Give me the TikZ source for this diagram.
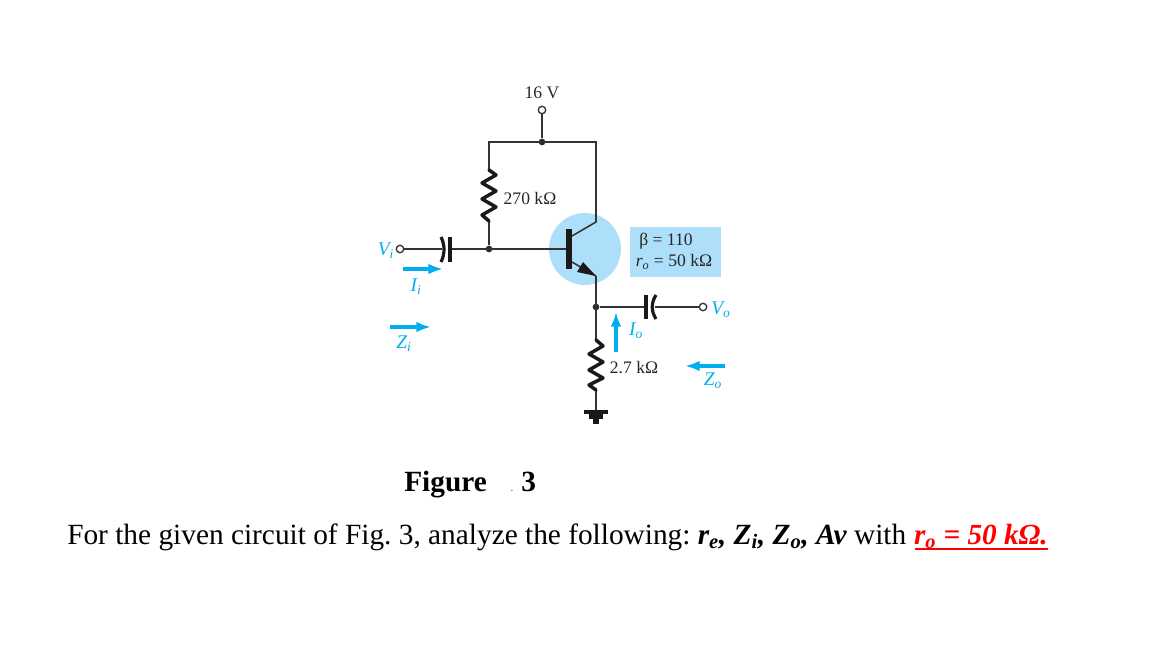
\documentclass[tikz,border=0pt]{standalone}
\usepackage{fontspec}
\setmainfont{Liberation Serif}
\usetikzlibrary{arrows.meta}
\definecolor{circblue}{HTML}{ADDFFA}
\definecolor{arrowblue}{HTML}{00AEEF}
\definecolor{wirecol}{HTML}{333333}
\tikzset{
  wire/.style={draw=wirecol,line width=1.15pt},
  term/.style={circle,draw=wirecol,fill=white,line width=1pt,minimum size=5.6pt,inner sep=0pt},
  dotj/.style={circle,fill=black!85,minimum size=5pt,inner sep=0pt},
  flow/.style={draw=arrowblue,line width=2.5pt,-{Latex[length=11pt,width=8pt]}},
  val/.style={inner sep=0pt,font=\fontsize{13.2}{15}\selectfont,text=black!85},
  cur/.style={inner sep=0pt,font=\fontsize{14.5}{16}\itshape\selectfont,text=arrowblue},
  plate/.style={draw=black!90,line width=2.4pt},
  res/.style={draw=black!90,line width=2.6pt,line join=round,line cap=round},
}
\begin{document}
\begin{tikzpicture}[x=0.75pt,y=-0.75pt]
  \useasboundingbox (0,0) rectangle (1152,648);

  % Transistor disc and value box
  \fill [circblue] (585,249) circle (36);
  \node (params) [fill=circblue,minimum width=68pt,minimum height=37.5pt,inner sep=0pt] at (675.5,252) {};
  \node (beta) [val] at (666,241) {β = 110};
  \node (rout) [val] at (674,262) {\textit{r\textsubscript{o}} = 50 kΩ};

  % Terminals and junctions
  \node (vcc) [term] at (542,110) {};
  \node (jtop) [dotj] at (542,142) {};
  \coordinate (cornerl) at (489,142);
  \coordinate (cornerr) at (596,142);
  \node (jbase) [dotj] at (489,249) {};
  \node (vin) [term] at (400,249) {};
  \node (jout) [dotj] at (596,307) {};
  \node (vout) [term] at (703,307) {};
  \coordinate (rbtop) at (489,170);
  \coordinate (rbbot) at (489,221);
  \coordinate (retop) at (596,340);
  \coordinate (rebot) at (596,390);
  \coordinate (gnd) at (596,410);
  \coordinate (bar) at (569,249);
  \coordinate (colin) at (572,236);
  \coordinate (colout) at (596,222);
  \coordinate (emin) at (572,262);
  \coordinate (emout) at (596,276);
  \coordinate (cinl) at (442,249);
  \coordinate (cinr) at (450,249);
  \coordinate (coutl) at (646,307);
  \coordinate (coutr) at (655,307);

  % Wires
  \draw [wire] (vcc) -- (jtop);
  \draw [wire] (rbtop) -- (cornerl) -- (cornerr) -- (colout) -- (colin);
  \draw [wire] (rbbot) -- (jbase);
  \draw [wire] (vin) -- (cinl);
  \draw [wire] (cinr) -- (bar);
  \draw [wire] (emout) -- (retop);
  \draw [wire] (rebot) -- (gnd);
  \draw [wire] (jout) -- (coutl);
  \draw [wire] (coutr) -- (vout);
  \draw [wire] (emin) -- (emout);
  \fill [black!90] (emout) -- (577,272) -- (583,262) -- cycle;

  % Base bar
  \fill [black!90] (566,229) rectangle (572,269);

  % Resistors
  \draw [res] (rbtop) -- (496,175) -- (482,183) -- (496,191) -- (482,199) -- (496,207) -- (482,215) -- (rbbot);
  \draw [res] (retop) -- (603,346) -- (589,354) -- (603,362) -- (589,370) -- (603,378) -- (589,385) -- (rebot);

  % Capacitors
  \draw [plate] (450,237) -- (450,262);
  \draw [plate] (441,237) .. controls (445,245) and (445,254) .. (441,262);
  \draw [plate] (646,295) -- (646,319);
  \draw [plate] (656,295) .. controls (651,303) and (651,311) .. (656,319);

  % Ground
  \fill [black!90] (584,410) rectangle (608,414);
  \fill [black!90] (589,414) rectangle (603,419);
  \fill [black!90] (593,419) rectangle (599,424);

  % Current and impedance arrows
  \coordinate (iia) at (403,269); \coordinate (iib) at (443,269);
  \coordinate (zia) at (390,327); \coordinate (zib) at (431,327);
  \coordinate (ioa) at (616,352); \coordinate (iob) at (616,312);
  \coordinate (zoa) at (725,366); \coordinate (zob) at (685,366);
  \draw [flow] (iia) -- (iib);
  \draw [flow] (zia) -- (zib);
  \draw [flow] (ioa) -- (iob);
  \draw [flow] (zoa) -- (zob);

  % Labels
  \node (lvcc) [val] at (542,93) {16 V};
  \node (lrb) [val] at (530,198) {270 kΩ};
  \node (lre) [val] at (634,368) {2.7 kΩ};
  \node (lvi) [cur] at (386,251) {V\textsubscript{i}};
  \node (lii) [cur] at (416,287) {I\textsubscript{i}};
  \node (lzi) [cur] at (404,344) {Z\textsubscript{i}};
  \node (lvo) [cur] at (721,310) {V\textsubscript{o}};
  \node (lio) [cur] at (636,331) {I\textsubscript{o}};
  \node (lzo) [cur] at (713,381) {Z\textsubscript{o}};

  % Caption
  \node (figa) [anchor=base west,inner sep=0pt,font=\fontsize{22}{24}\bfseries\selectfont] at (404,491) {Figure};
  \node (figdot) [anchor=base,inner sep=0pt,font=\fontsize{7}{8}\selectfont] at (512,491) {.};
  \node (figb) [anchor=base west,inner sep=0pt,font=\fontsize{22}{24}\bfseries\selectfont] at (521,491) {3};
  \node (capa) [anchor=base west,inner sep=0pt,font=\fontsize{22}{24}\selectfont] at (67,544)
    {\frenchspacing For the given circuit of Fig. 3, analyze the following: \textbf{\textit{r\textsubscript{e}, Z\textsubscript{i}, Z\textsubscript{o}, Av}} with};
  \node (capb) [anchor=base east,inner sep=0pt,text=red,font=\fontsize{21.9}{24}\bfseries\itshape\selectfont] at (1048,544)
    {r\textsubscript{o} = 50 kΩ.};
  \coordinate (ula) at (915,549); \coordinate (ulb) at (1048,549);
  \draw [red,line width=1.5pt] (ula) -- (ulb);
\end{tikzpicture}
\end{document}
